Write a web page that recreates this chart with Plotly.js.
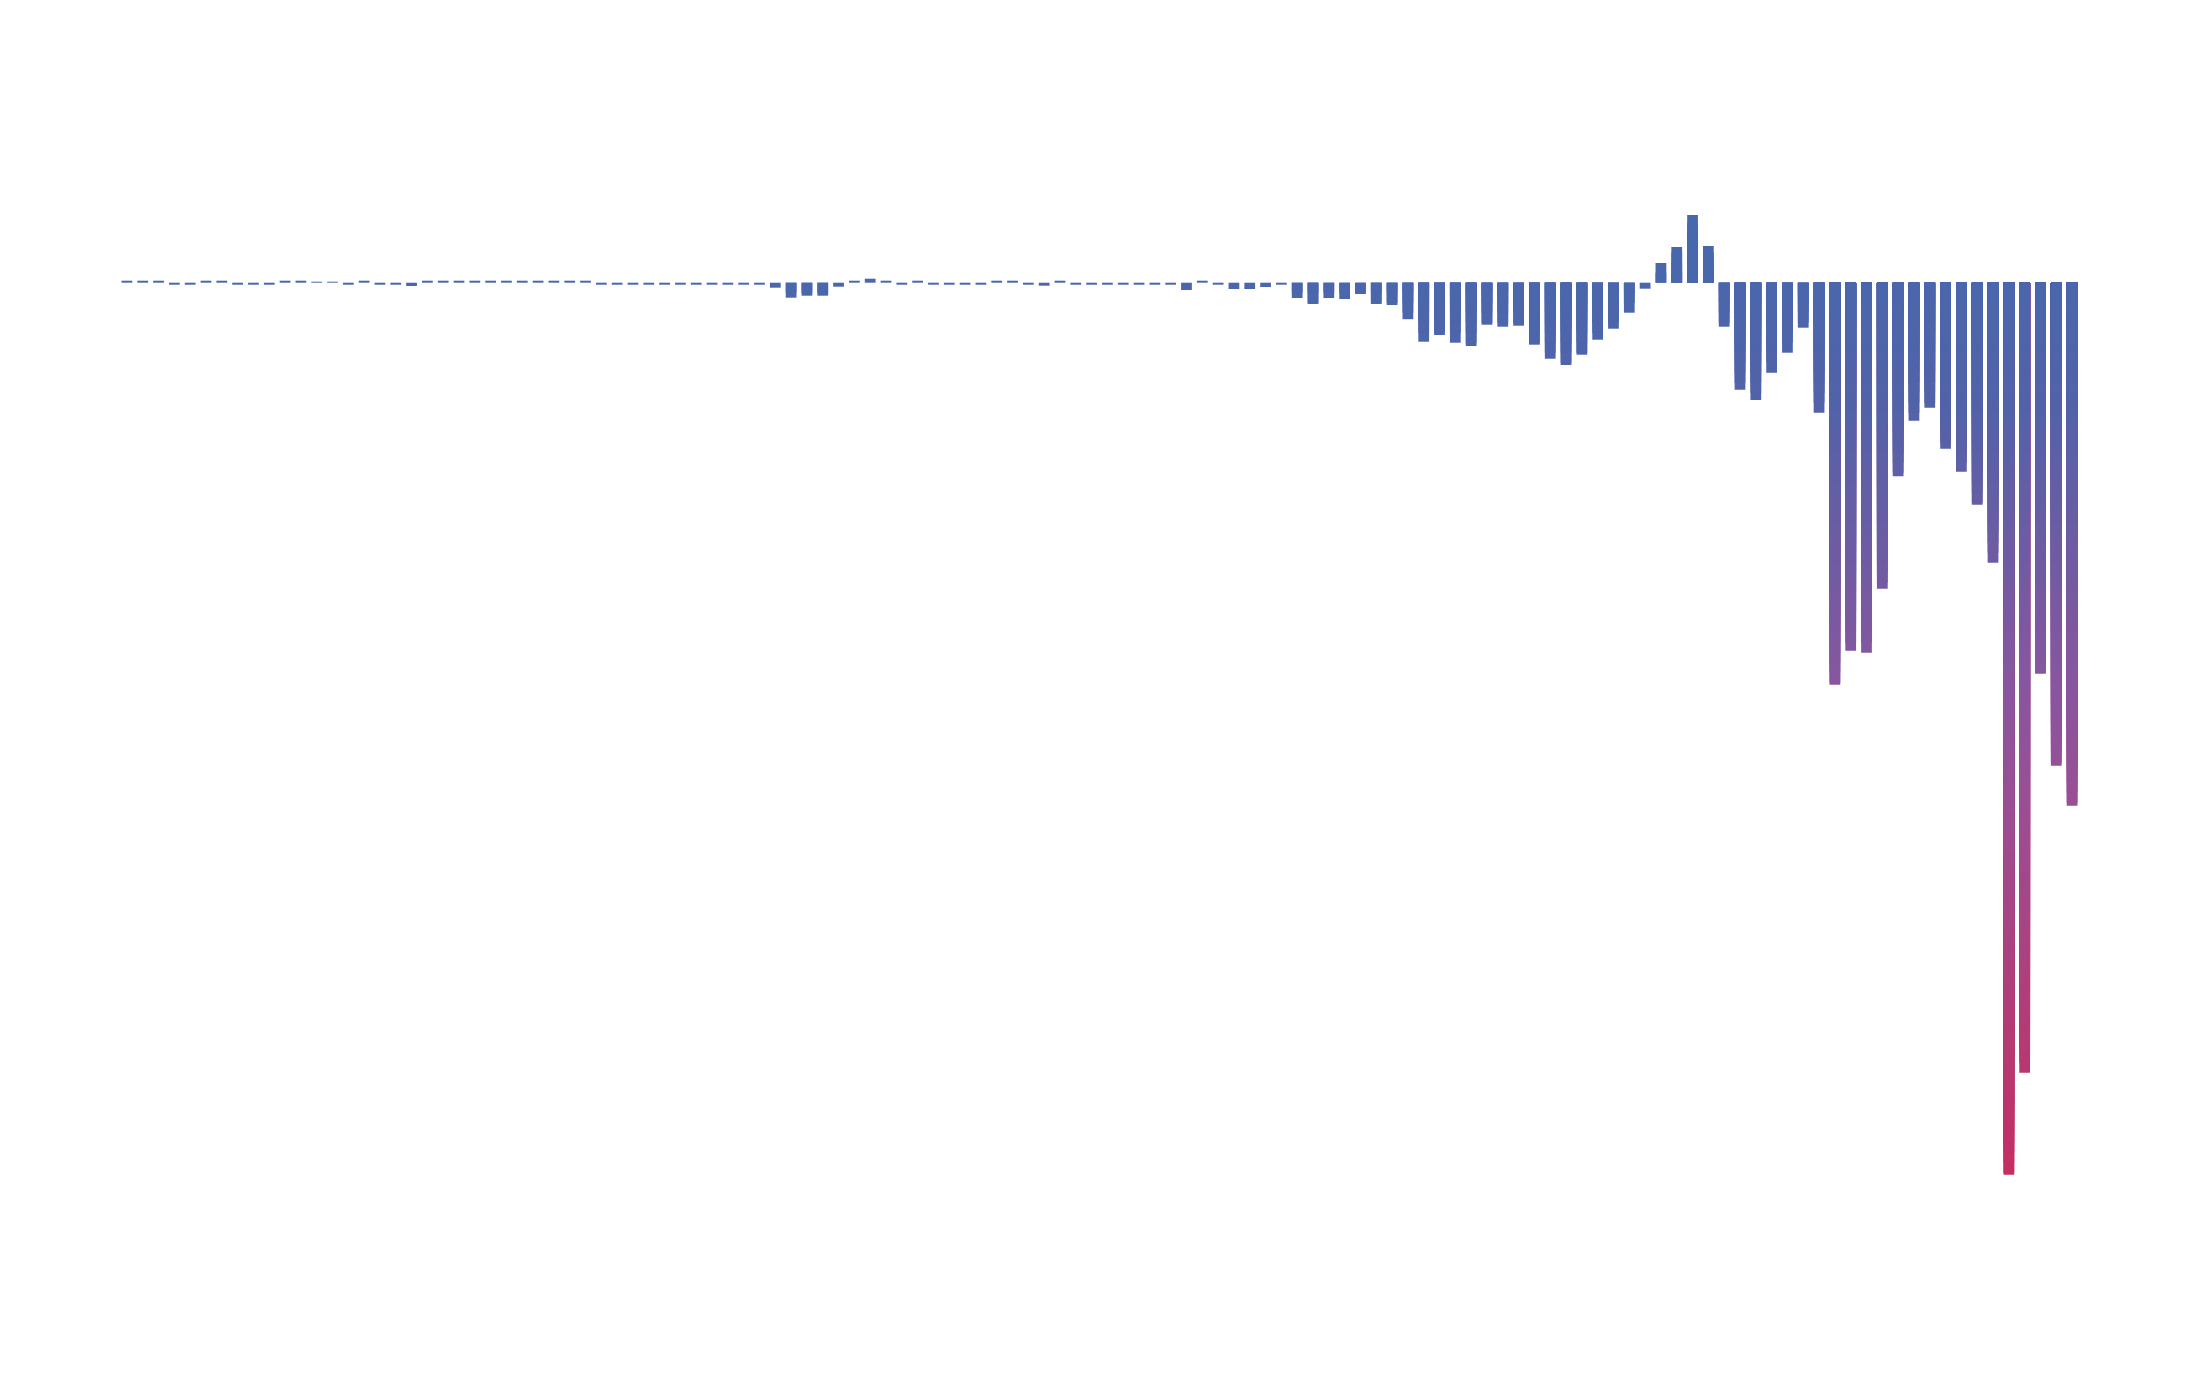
<!DOCTYPE html>
<html>
<head>
<meta charset="utf-8">
<script src="https://cdn.plot.ly/plotly-3.0.1.min.js"></script>
<style>
  html, body { margin: 0; padding: 0; background: #ffffff; }
  #chart { width: 2200px; height: 1400px; }
</style>
</head>
<body>
<div id="chart"></div>
<script>
// ── Data ─────────────────────────────────────
const values = [
  0.2, 0.2, 0.2, -0.2, -0.2, 0.2, 0.2, -0.2, -0.2, -0.2,
  0.2, 0.2, 0.1, 0.1, -0.2, 0.2, -0.2, -0.2, -0.33, 0.2,
  0.2, 0.2, 0.2, 0.2, 0.2, 0.2, 0.2, 0.2, 0.2, 0.2,
  -0.2, -0.2, -0.2, -0.2, -0.2, -0.2, -0.2, -0.2, -0.2, -0.2,
  -0.2, -0.5, -1.5, -1.3, -1.3, -0.4, 0.2, 0.4, 0.2, -0.2,
  0.2, -0.2, -0.2, -0.2, -0.2, 0.2, 0.2, -0.2, -0.3, 0.2,
  -0.2, -0.2, -0.2, -0.2, -0.2, -0.2, -0.2, -0.73, 0.2, -0.2,
  -0.63, -0.63, -0.43, -0.2, -1.53, -2.13, -1.53, -1.63, -1.13, -2.13,
  -2.23, -3.65, -5.9, -5.23, -6.0, -6.33, -4.2, -4.4, -4.3, -6.2,
  -7.6, -8.23, -7.2, -5.7, -4.6, -3.0, -0.6, 1.97, 3.57, 6.77,
  3.67, -4.4, -10.7, -11.73, -9.0, -7.0, -4.5, -13.0, -40.2, -36.8,
  -37.0, -30.6, -19.35, -13.8, -12.5, -16.6, -18.9, -22.2, -28.0, -89.2,
  -79.0, -39.1, -48.3, -52.3,
];

// ── Style ────────────────────────────────────
// vertical gradient, 0 = highest value, 1 = lowest value
const gradientStops = [
  [0.0, "#4569ae"],
  [0.2, "#5262a8"],
  [0.49, "#88569f"],
  [0.62, "#9b4e93"],
  [0.9, "#b8376f"],
  [1.0, "#c42e62"],
];
const SLICE = 1; // height of one gradient band, in data units

function hexToRgb(hex) {
  const n = parseInt(hex.slice(1), 16);
  return [(n >> 16) & 255, (n >> 8) & 255, n & 255];
}

function gradientAt(t) {
  t = Math.max(0, Math.min(1, t));
  for (let i = 1; i < gradientStops.length; i++) {
    const [t1, c1] = gradientStops[i];
    const [t0, c0] = gradientStops[i - 1];
    if (t <= t1) {
      const f = (t - t0) / (t1 - t0);
      const a = hexToRgb(c0);
      const b = hexToRgb(c1);
      const rgb = a.map((v, k) => Math.round(v + (b[k] - v) * f));
      return `rgb(${rgb.join(",")})`;
    }
  }
  return gradientStops[gradientStops.length - 1][1];
}

// ── Build gradient bands ─────────────────────
// Each band is the bars clipped at one y level, drawn from 0 outwards.
// Far bands go first, nearer bands paint over them, so no seams show.
function buildTraces() {
  const vmax = Math.max(...values);
  const vmin = Math.min(...values);
  const bands = [];

  for (let lo = Math.floor(vmin / SLICE) * SLICE; lo < vmax; lo += SLICE) {
    const hi = lo + SLICE;
    const negative = hi <= 0;
    const y = values.map((v) => {
      if (negative) return v < hi ? Math.max(v, lo) : null;
      return v > lo ? Math.min(v, hi) : null;
    });
    if (y.every((v) => v === null)) continue;

    const mid = (lo + hi) / 2;
    bands.push({
      dist: Math.abs(mid),
      trace: {
        type: "bar",
        y,
        marker: { color: gradientAt((vmax - mid) / (vmax - vmin)), line: { width: 0 } },
        hoverinfo: "skip",
        showlegend: false,
      },
    });
  }

  bands.sort((a, b) => b.dist - a.dist);
  return bands.map((b) => b.trace);
}

// ── Render ───────────────────────────────────
const layout = {
  width: 2200,
  height: 1400,
  margin: { t: 100, r: 120, b: 100, l: 119 },
  paper_bgcolor: "#ffffff",
  plot_bgcolor: "#ffffff",
  barmode: "overlay",
  bargap: 0.32,
  showlegend: false,
  xaxis: {
    visible: false,
    range: [-0.5, values.length - 0.5],
    showgrid: false,
    zeroline: false,
  },
  yaxis: {
    visible: false,
    range: [-101.73, 18.27],
    showgrid: false,
    zeroline: false,
  },
};

Plotly.newPlot("chart", buildTraces(), layout, { displayModeBar: false, staticPlot: true });
</script>
</body>
</html>
